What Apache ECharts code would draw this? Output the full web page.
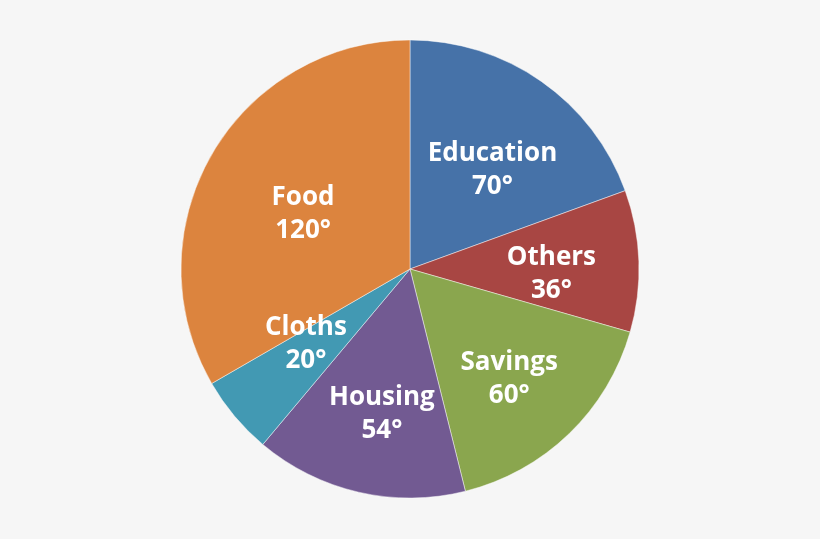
<!DOCTYPE html>
<html><head><meta charset="utf-8">
<script src="https://cdn.jsdelivr.net/npm/echarts@6/dist/echarts.min.js"></script>
<style>html,body{margin:0;padding:0;background:#f6f6f6;}#c{width:820px;height:539px;}</style>
</head><body><div id="c"></div>
<script>
const categories = ['Education', 'Others', 'Savings', 'Housing', 'Cloths', 'Food'];
const degrees = [70, 36, 60, 54, 20, 120];
const colors = ['#4672a8', '#a84643', '#8aa64e', '#725a92', '#4299b3', '#dc843e'];

// per-label offsets (override the default) to match the reference label placement
const labelNudge = { Education: [3, 15], Cloths: [2, -14], Food: [13, 14] };

const data = categories.map((n, i) => ({ name: n, value: degrees[i], itemStyle: { color: colors[i] } }));
const labelData = categories.map((n, i) => {
  const d = { name: n, value: degrees[i] };
  if (labelNudge[n]) d.label = { offset: labelNudge[n] };
  return d;
});
const chart = echarts.init(document.getElementById('c'));
chart.setOption({
  backgroundColor: '#f6f6f6',
  animation: false,
  series: [
    {
      type: 'pie', center: [410, 269], radius: [0, 229], startAngle: 90, clockwise: true,
      data: data, label: { show: false }, labelLine: { show: false },
      itemStyle: { borderColor: 'rgba(255,255,255,0.45)', borderWidth: 1 },
      emphasis: { disabled: true }
    },
    {
      type: 'pie', center: [410, 269], radius: [42, 229], startAngle: 90, clockwise: true, silent: true,
      avoidLabelOverlap: false, minShowLabelAngle: 0,
      data: labelData,
      itemStyle: { color: 'rgba(0,0,0,0)', borderWidth: 0 },
      label: {
        show: true, position: 'inside', color: '#ffffff', fontFamily: 'Open Sans', fontWeight: 'bold', fontSize: 26, lineHeight: 33,
        offset: [3, 10], overflow: 'none',
        formatter: p => p.name + '\n' + p.value + '°'
      },
      labelLayout: { hideOverlap: false },
      labelLine: { show: false }, emphasis: { disabled: true }
    }
  ]
});
</script></body></html>
